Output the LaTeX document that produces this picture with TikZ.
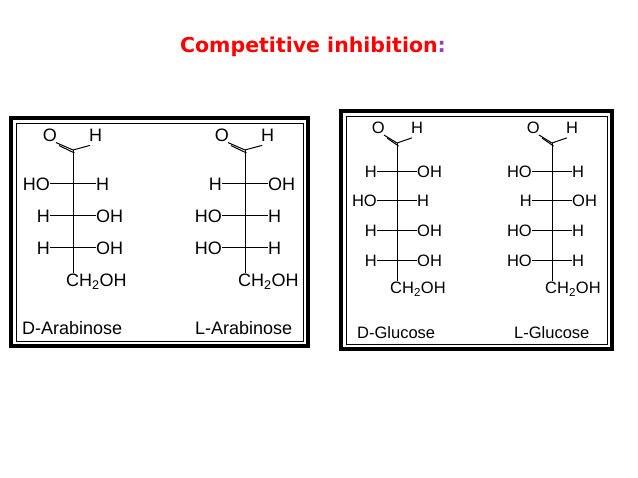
\documentclass[tikz,border=0pt]{standalone}
\usepackage{fontspec}
\setmainfont{Liberation Sans}
\newfontfamily\titlefont{DejaVu Sans}
\definecolor{colonc}{RGB}{150,60,200}
\begin{document}
\begin{tikzpicture}[x=1pt,y=-1pt,
  atom/.style={inner sep=0pt,font=\fontsize{18}{18}\selectfont},
  gatom/.style={inner sep=0pt,font=\fontsize{16.5}{16.5}\selectfont},
  bond/.style={line width=1pt},
  outerbox/.style={line width=3.5pt},
  innerbox/.style={line width=0.8pt}]
\useasboundingbox (0,0) rectangle (638,478);
\node[font=\titlefont\bfseries\fontsize{20.5}{20.5}\selectfont] (title) at (313,47)
  {\textcolor{red}{Competitive inhibition}\textcolor{colonc}{:}};
% boxes
\draw[outerbox] (11,118) rectangle (308,346);
\draw[innerbox] (16,123) rectangle (303,341);
\draw[outerbox] (341,111) rectangle (612,349);
\draw[innerbox] (346,116) rectangle (607,344);
% #1 prefix, #2 x, #3 style, #4 half-width, #5 y of C1, #6 rows, #7 y CH2OH, #8 dxO, #9 dxH
\newcommand{\fischer}[9]{%
  \coordinate (#1c) at (#2,#5);
  \node[#3,anchor=east] (#1o) at (#2-#8,#5-15) {O};
  \node[#3,anchor=west] (#1h) at (#2+#9,#5-15) {H};
  \draw[bond] (#1c) -- ([xshift=-1pt,yshift=-1pt]#1o.south east);
  \draw[bond] ([xshift=1.5pt,yshift=-3pt]#1c) -- ([xshift=2pt,yshift=-4pt]#1o.south east);
  \draw[bond] (#1c) -- ([xshift=1pt,yshift=-4pt]#1h.south west);
  \node[#3,anchor=north west] (#1e) at (#2-7,#7-9) {CH\textsubscript{2}OH};
  \draw[bond] (#1c) -- (#2,#7-10);
  \foreach \yy/\ll/\rr [count=\i] in {#6}{
    \node[#3,anchor=east] (#1l\i) at (#2-#4,\yy) {\ll};
    \node[#3,anchor=west] (#1r\i) at (#2+#4,\yy) {\rr};
    \draw[bond] (#1l\i.east) -- (#1r\i.west);
  }}
\fischer{da}{73}{atom}{23}{150}{184/HO/H,216/H/OH,248/H/OH}{283}{16}{16}
\fischer{la}{245}{atom}{23}{150}{184/H/OH,216/HO/H,248/HO/H}{283}{16}{16}
\fischer{dg}{397}{gatom}{20}{143}{172/H/OH,201/HO/H,231/H/OH,261/H/OH}{291}{12}{14}
\fischer{lg}{552}{gatom}{20}{143}{172/HO/H,201/H/OH,231/HO/H,261/HO/H}{291}{12}{14}
\node[atom,anchor=west] (dan) at (22,328) {D-Arabinose};
\node[atom,anchor=west] (lan) at (195,328) {L-Arabinose};
\node[gatom,anchor=west] (dgn) at (357,333) {D-Glucose};
\node[gatom,anchor=west] (lgn) at (514,333) {L-Glucose};
\end{tikzpicture}
\end{document}
